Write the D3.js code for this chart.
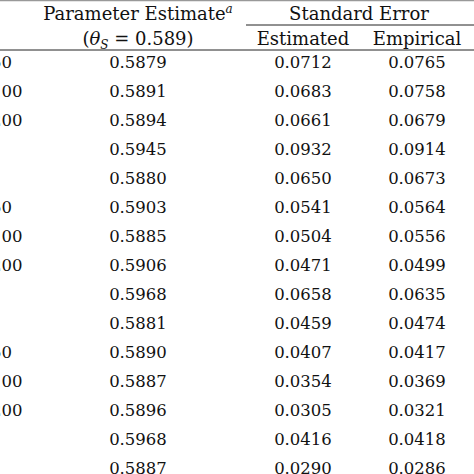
<!DOCTYPE html>
<html><head><meta charset="utf-8">
<script src="https://cdn.jsdelivr.net/npm/d3@7"></script>
<style>body{margin:0;background:#fff}text{font-family:"DejaVu Serif","Liberation Serif",serif;fill:#111}</style>
</head><body><svg id="c" width="474" height="474"></svg>
<script>
const sampleSizes = ["50","100","200","","","50","100","200","","","50","100","200","",""];
const paramEstimate = ["0.5879","0.5891","0.5894","0.5945","0.5880","0.5903","0.5885","0.5906","0.5968","0.5881","0.5890","0.5887","0.5896","0.5968","0.5887"];
const seEstimated = ["0.0712","0.0683","0.0661","0.0932","0.0650","0.0541","0.0504","0.0471","0.0658","0.0459","0.0407","0.0354","0.0305","0.0416","0.0290"];
const seEmpirical = ["0.0765","0.0758","0.0679","0.0914","0.0673","0.0564","0.0556","0.0499","0.0635","0.0474","0.0417","0.0369","0.0321","0.0418","0.0286"];
const columns = ["param","est","emp"];

const svg = d3.select("#c");
const fs = 16.5, hs = 18;
const y = d3.scaleBand().domain(d3.range(paramEstimate.length)).range([48, 482]);
const x = d3.scaleOrdinal().domain(columns).range([138, 303, 417]);

svg.append("line").attr("x1",0).attr("x2",474).attr("y1",0.5).attr("y2",0.5).attr("stroke","#999").attr("stroke-width",1.5);
svg.append("line").attr("x1",0).attr("x2",474).attr("y1",50).attr("y2",50).attr("stroke","#222").attr("stroke-width",1);
svg.append("line").attr("x1",246).attr("x2",474).attr("y1",25).attr("y2",25).attr("stroke","#222").attr("stroke-width",1);

const h1 = svg.append("text").attr("x",x("param")).attr("y",20).attr("text-anchor","middle").attr("font-size",hs);
h1.append("tspan").text("Parameter Estimate");
h1.append("tspan").attr("font-size",12).attr("font-style","italic").attr("dy",-7).text("a");
const h2 = svg.append("text").attr("x",x("param")).attr("y",45).attr("text-anchor","middle").attr("font-size",hs);
h2.append("tspan").text("(");
h2.append("tspan").attr("font-style","italic").text("θ");
h2.append("tspan").attr("font-style","italic").attr("font-size",12).attr("dy",4).text("S");
h2.append("tspan").attr("dy",-4).text(" = 0.589)");
svg.append("text").attr("x",359).attr("y",20).attr("text-anchor","middle").attr("font-size",hs).text("Standard Error");
svg.append("text").attr("x",x("est")).attr("y",45).attr("text-anchor","middle").attr("font-size",hs).text("Estimated");
svg.append("text").attr("x",x("emp")).attr("y",45).attr("text-anchor","middle").attr("font-size",hs).text("Empirical");

const rows = svg.selectAll("g.row").data(paramEstimate.map((p,i)=>({i,n:sampleSizes[i],param:p,est:seEstimated[i],emp:seEmpirical[i]})))
  .join("g").attr("transform",d=>`translate(0,${y(d.i)+y.bandwidth()/2+6})`);
rows.append("text").attr("x",-9).attr("font-size",fs).text(d=>d.n);
columns.forEach(c=>rows.append("text").attr("x",x(c)).attr("text-anchor","middle").attr("font-size",fs).text(d=>d[c]));
</script></body></html>
